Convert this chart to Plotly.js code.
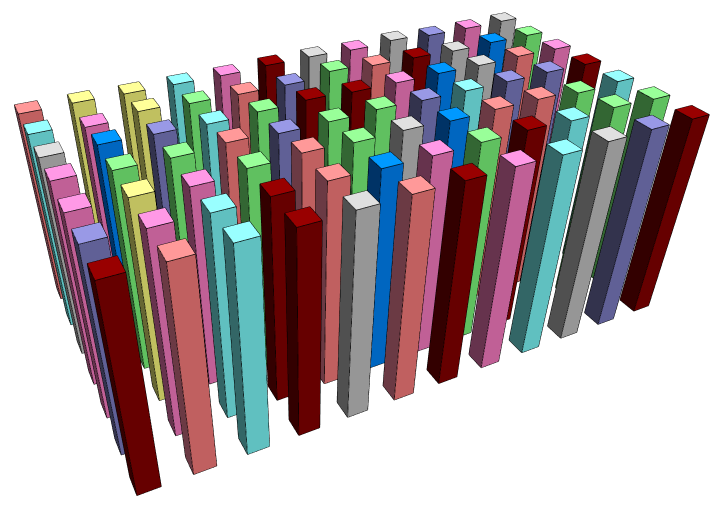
<!DOCTYPE html>
<html><head><meta charset="utf-8">
<script src="https://cdn.plot.ly/plotly-3.0.1.min.js"></script>
<style>html,body{margin:0;padding:0;overflow:hidden;background:#fff;width:719px;height:506px}
#plot{position:absolute;left:-75px;top:-82px;width:796px;height:685px}</style>
</head><body><div id="plot"></div>
<script>
var S='salmon',D='darkred',C='cyan',G='grey',P='pink',N='green',B='blue',V='violet',Y='yellow';
var colorsRow0=[D,S,C,D,G,S,D,P,C,G,V,D];
var colorsRow1=[V,P,C,D,S,B,P,N,D,C,N,N];
var colorsRow2=[P,Y,P,N,S,N,G,B,S,S,N,C];
var colorsRow3=[P,N,N,S,V,N,N,V,C,V,V,D];
var colorsRow4=[G,B,V,C,N,D,D,P,B,G,S,P];
var colorsRow5=[C,P,Y,N,S,V,N,S,D,G,B,N];
var colorsRow6=[S,Y,Y,C,P,D,G,P,G,V,P,G];
var valuesRow0=[399,398,399,397,399,400,399,400,398,400,401,400];
var valuesRow1=[397,395,394,396,398,396,396,398,399,396,401,398];
var valuesRow2=[394,394,388,396,400,397,398,395,397,397,391,395];
var valuesRow3=[397,392,391,396,392,393,396,394,394,394,395,394];
var valuesRow4=[391,392,390,388,391,394,391,391,392,391,393,392];
var valuesRow5=[389,382,391,387,386,386,395,390,389,387,389,389];
var valuesRow6=[386,387,386,386,386,389,390,388,392,388,388,389];
var salmonShades=['#FF9999','#C06060','#6B3A44'];
var darkredShades=['#990000','#660000','#330000'];
var cyanShades=['#99FFFF','#60C0C0','#336666'];
var greyShades=['#E0E0E0','#969696','#505050'];
var pinkShades=['#FF99E6','#C06096','#66334D'];
var greenShades=['#99FF99','#60C060','#336633'];
var blueShades=['#0099FF','#0066C0','#003366'];
var violetShades=['#9999E6','#606096','#33334D'];
var yellowShades=['#FFFF99','#C0C060','#666633'];
var palette={salmon:salmonShades,darkred:darkredShades,cyan:cyanShades,grey:greyShades,pink:pinkShades,green:greenShades,blue:blueShades,violet:violetShades,yellow:yellowShades};
var colorRows=[colorsRow0,colorsRow1,colorsRow2,colorsRow3,colorsRow4,colorsRow5,colorsRow6];
var valueRows=[valuesRow0,valuesRow1,valuesRow2,valuesRow3,valuesRow4,valuesRow5,valuesRow6];

var az=.4710,el=.6390,ro=.0130;
var X0=.1079,Y0=.8019,stepC=.0872,stepR=.0842,barW=.0370;
function dot(a,b){return a[0]*b[0]+a[1]*b[1]+a[2]*b[2]}
function norm(a){var l=Math.sqrt(dot(a,a));return a.map(function(v){return v/l})}
function cross(a,b){return [a[1]*b[2]-a[2]*b[1],a[2]*b[0]-a[0]*b[2],a[0]*b[1]-a[1]*b[0]]}
var F=[Math.cos(el)*Math.sin(az),Math.cos(el)*Math.cos(az),-Math.sin(el)];
var R0=norm(cross(F,[0,0,1])),U0=cross(R0,F);
var Up=U0.map(function(v,i){return -Math.sin(ro)*R0[i]+Math.cos(ro)*v});

var x=[],y=[],z=[],I=[],J=[],K=[],fc=[],lx=[],ly=[],lz=[];
function quad(a,b,c,d,col){var n=x.length;[a,b,c,d].forEach(function(q){x.push(q[0]);y.push(q[1]);z.push(q[2])});I.push(n,n);J.push(n+1,n+2);K.push(n+2,n+3);fc.push(col,col);}
function seg(a,b){lx.push(a[0],b[0],null);ly.push(a[1],b[1],null);lz.push(a[2],b[2],null)}
colorRows.forEach(function(row,r){row.forEach(function(name,c){
 var x0=X0+c*stepC,y0=Y0+r*stepR,x1=x0+barW,y1=y0+barW,h=valueRows[r][c]/1000,q=palette[name];
 var a=[x0,y0,0],b=[x1,y0,0],d=[x0,y1,0],at=[x0,y0,h],bt=[x1,y0,h],ct=[x1,y1,h],dt=[x0,y1,h];
 quad(at,bt,ct,dt,q[0]);quad(a,b,bt,at,q[1]);quad(a,d,dt,at,q[2]);
 seg(at,bt);seg(bt,ct);seg(ct,dt);seg(dt,at);seg(a,at);seg(b,bt);seg(d,dt);seg(a,b);seg(a,d);
});});
var cen=[F[0]/-F[2],F[1]/-F[2],0],L=2;
var cam={eye:{x:-cen[0]/L,y:-cen[1]/L,z:1/L},center:{x:0,y:0,z:0},up:{x:Up[0],y:Up[1],z:Up[2]},projection:{type:'perspective'}};
var ax={visible:false,showgrid:false,zeroline:false,showspikes:false};
var layout={width:796,height:685,margin:{l:0,r:0,t:0,b:0,pad:0},paper_bgcolor:'#fff',showlegend:false,
 scene:{bgcolor:'#fff',camera:cam,aspectmode:'manual',aspectratio:{x:1,y:1,z:1},domain:{x:[0,1],y:[0,1]},
 xaxis:Object.assign({range:[cen[0]-L/2,cen[0]+L/2]},ax),yaxis:Object.assign({range:[cen[1]-L/2,cen[1]+L/2]},ax),zaxis:Object.assign({range:[-1,1]},ax)}};
Plotly.newPlot('plot',[
 {type:'mesh3d',x:x,y:y,z:z,i:I,j:J,k:K,facecolor:fc,flatshading:true,hoverinfo:'skip',lighting:{ambient:1,diffuse:0,specular:0,fresnel:0,roughness:1},lightposition:{x:0,y:0,z:1000}},
 {type:'scatter3d',mode:'lines',x:lx,y:ly,z:lz,line:{color:'#000',width:1.5},hoverinfo:'skip',connectgaps:false}
],layout,{displayModeBar:false});
</script></body></html>
